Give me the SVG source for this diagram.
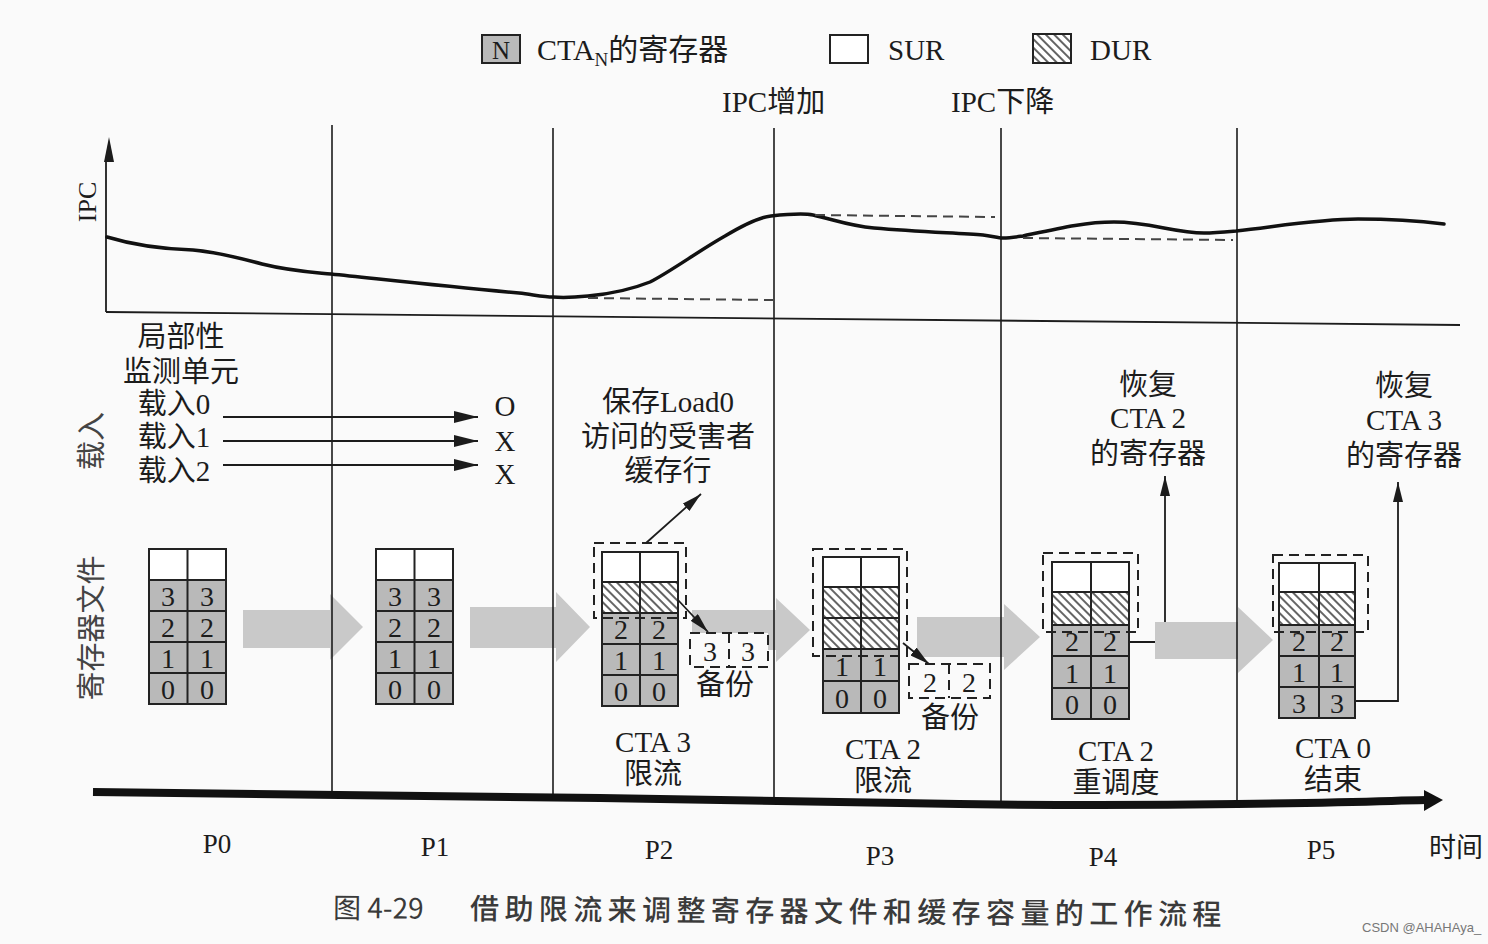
<svg xmlns="http://www.w3.org/2000/svg" width="1488" height="944" viewBox="0 0 1488 944">
<defs>
<style>
.t{font-family:"Liberation Serif","Noto Sans CJK SC",serif;fill:#1c1c1c;font-size:29px}
.m{text-anchor:middle}
.c{stroke:#222;stroke-width:2}
.w{fill:#fff}
.g{fill:#b9b9b9}
.h{fill:url(#hatch)}
.d{fill:none;stroke:#222;stroke-width:2;stroke-dasharray:10 6}
.ln{fill:none;stroke:#1c1c1c;stroke-width:1.8}
.ph{stroke:#1c1c1c;stroke-width:1.6}
.ga{fill:#c9c9c9}
.n{font-family:"Liberation Serif",serif;font-size:28px;fill:#1c1c1c;text-anchor:middle}
</style>
<pattern id="hatch" width="6" height="6" patternUnits="userSpaceOnUse" patternTransform="rotate(-45)">
<rect width="6" height="6" fill="#fff"/>
<line x1="1" y1="0" x2="1" y2="6" stroke="#222" stroke-width="1.4"/>
</pattern>
<marker id="arr" markerUnits="userSpaceOnUse" markerWidth="24" markerHeight="12" refX="24" refY="6" orient="auto">
<path d="M0,0 L24,6 L0,12 z" fill="#1c1c1c"/>
</marker>
<marker id="arrs" markerUnits="userSpaceOnUse" markerWidth="20" markerHeight="10" refX="20" refY="5" orient="auto">
<path d="M0,0 L20,5 L0,10 z" fill="#1c1c1c"/>
</marker>
</defs>
<rect width="1488" height="944" fill="#fafafa"/>

<g id="legend">
<rect x="482" y="35" width="38" height="28" class="c g"/>
<text x="501" y="59" class="n" style="font-size:25px">N</text>
<text x="537" y="60" class="t" style="font-size:30px">CTA<tspan font-size="19" dy="6">N</tspan><tspan dy="-6">的寄存器</tspan></text>
<rect x="830" y="35" width="38" height="28" class="c w"/>
<text x="888" y="60" class="t">SUR</text>
<rect x="1033" y="34" width="38" height="29" class="c h"/>
<text x="1090" y="60" class="t">DUR</text>
</g>

<g id="ipc-labels">
<text x="722" y="112" class="t">IPC增加</text>
<text x="951" y="112" class="t">IPC下降</text>
</g>

<g id="connectors-under">
<path d="M1129,642 H1165 V476" class="ln" marker-end="url(#arrs)"/>
<path d="M1355,701 H1398 V482" class="ln" marker-end="url(#arrs)"/>
</g>

<g id="flow-arrows">
<polygon class="ga" points="243,610 330,610 330,594 363,627 330,660 330,648 243,648"/>
<polygon class="ga" points="470,607 556,607 556,592 590,627 556,662 556,648 470,648"/>
<polygon class="ga" points="692,610 776,610 776,598 810,630 776,662 776,650 692,650"/>
<polygon class="ga" points="917,617 1004,617 1004,604 1040,637 1004,670 1004,657 917,657"/>
<polygon class="ga" points="1155,622 1238,622 1238,607 1273,640 1238,673 1238,659 1155,659"/>
</g>

<g id="phase-lines">
<line x1="332" y1="125" x2="332" y2="795" class="ph"/>
<line x1="553" y1="128" x2="553" y2="797" class="ph"/>
<line x1="774" y1="128" x2="774" y2="800" class="ph"/>
<line x1="1001" y1="128" x2="1001" y2="805" class="ph"/>
<line x1="1237" y1="128" x2="1237" y2="804" class="ph"/>
</g>

<g id="ipc-chart">
<line x1="106" y1="312" x2="106" y2="158" class="ln"/>
<polygon points="109,137 104,162 114,162" fill="#1c1c1c"/>
<line x1="106" y1="312" x2="1460" y2="325" class="ln"/>
<text transform="translate(96,202) rotate(-90)" class="t m" style="font-size:26px">IPC</text>
<path d="M107,237 C130,244 160,249 193,250 C215,252 240,258 262,264 C290,271 310,272 331,274 C380,279 440,286 519,293 C535,295 545,297 553,297 C565,298 578,297 588,296 C610,294 630,290 650,282 C670,272 700,250 725,236 C745,224 760,217 771,216 C790,214 803,213 813,215 C835,220 850,226 874,228 C920,232 960,233 983,235 C992,236 998,238 1003,238 C1010,238 1016,237 1023,236 C1060,228 1085,222 1114,222 C1150,222 1175,233 1204,233 C1215,233 1225,232 1236,231 C1280,226 1320,219 1358,219 C1390,219 1420,221 1444,224" fill="none" stroke="#111" stroke-width="3.5" stroke-linecap="round"/>
<line x1="588" y1="298" x2="773" y2="300" class="d" style="stroke:#444"/>
<line x1="815" y1="215" x2="995" y2="217" class="d" style="stroke:#444"/>
<line x1="1023" y1="238" x2="1233" y2="240" class="d" style="stroke:#444"/>
</g>

<g id="side-labels">
<text transform="translate(102,441) rotate(-90)" class="t m" style="fill:#444">载入</text>
<text transform="translate(102,628) rotate(-90)" class="t m" style="fill:#444">寄存器文件</text>
</g>

<g id="locality-unit">
<text x="181" y="347" class="t m">局部性</text>
<text x="181" y="382" class="t m">监测单元</text>
<text x="174" y="414" class="t m">载入0</text>
<text x="174" y="447" class="t m">载入1</text>
<text x="174" y="481" class="t m">载入2</text>
<line x1="223" y1="417" x2="478" y2="417" class="ln" marker-end="url(#arr)"/>
<line x1="223" y1="441" x2="478" y2="441" class="ln" marker-end="url(#arr)"/>
<line x1="223" y1="465" x2="478" y2="465" class="ln" marker-end="url(#arr)"/>
<text x="505" y="416" class="n" style="font-size:29px">O</text>
<text x="505" y="451" class="n" style="font-size:29px">X</text>
<text x="505" y="484" class="n" style="font-size:29px">X</text>
</g>

<g id="block-p0" transform="translate(149,549)">
<rect x="0" y="0" width="77" height="31" class="c w"/>
<rect x="0" y="31" width="77" height="31" class="c g"/>
<rect x="0" y="62" width="77" height="31" class="c g"/>
<rect x="0" y="93" width="77" height="31" class="c g"/>
<rect x="0" y="124" width="77" height="31" class="c g"/>
<line x1="38.5" y1="0" x2="38.5" y2="155" class="c"/>
<text x="19" y="57" class="n">3</text><text x="58" y="57" class="n">3</text>
<text x="19" y="88" class="n">2</text><text x="58" y="88" class="n">2</text>
<text x="19" y="119" class="n">1</text><text x="58" y="119" class="n">1</text>
<text x="19" y="150" class="n">0</text><text x="58" y="150" class="n">0</text>
</g>

<g id="block-p1" transform="translate(376,549)">
<rect x="0" y="0" width="77" height="31" class="c w"/>
<rect x="0" y="31" width="77" height="31" class="c g"/>
<rect x="0" y="62" width="77" height="31" class="c g"/>
<rect x="0" y="93" width="77" height="31" class="c g"/>
<rect x="0" y="124" width="77" height="31" class="c g"/>
<line x1="38.5" y1="0" x2="38.5" y2="155" class="c"/>
<text x="19" y="57" class="n">3</text><text x="58" y="57" class="n">3</text>
<text x="19" y="88" class="n">2</text><text x="58" y="88" class="n">2</text>
<text x="19" y="119" class="n">1</text><text x="58" y="119" class="n">1</text>
<text x="19" y="150" class="n">0</text><text x="58" y="150" class="n">0</text>
</g>

<g id="block-p2">
<g transform="translate(602,552)">
<rect x="0" y="0" width="76" height="30" class="c w"/>
<rect x="0" y="30" width="76" height="31" class="c h"/>
<rect x="0" y="61" width="76" height="31" class="c g"/>
<rect x="0" y="92" width="76" height="31" class="c g"/>
<rect x="0" y="123" width="76" height="31" class="c g"/>
<line x1="38" y1="0" x2="38" y2="154" class="c"/>
<text x="19" y="87" class="n">2</text><text x="57" y="87" class="n">2</text>
<text x="19" y="118" class="n">1</text><text x="57" y="118" class="n">1</text>
<text x="19" y="149" class="n">0</text><text x="57" y="149" class="n">0</text>
</g>
<rect x="594" y="543" width="92" height="75" class="d"/>
<line x1="646" y1="543" x2="701" y2="494" class="ln" marker-end="url(#arrs)"/>
<line x1="678" y1="600" x2="708" y2="632" class="ln" marker-end="url(#arrs)"/>
<rect x="690" y="633" width="78" height="34" class="d" style="fill:#fafafa"/>
<line x1="729" y1="633" x2="729" y2="667" class="d"/>
<text x="710" y="661" class="n">3</text><text x="748" y="661" class="n">3</text>
<text x="725" y="695" class="t m">备份</text>
<text x="653" y="752" class="t m">CTA 3</text>
<text x="653" y="784" class="t m">限流</text>
<text x="668" y="412" class="t m">保存Load0</text>
<text x="668" y="447" class="t m">访问的受害者</text>
<text x="668" y="481" class="t m">缓存行</text>
</g>

<g id="block-p3">
<g transform="translate(823,557)">
<rect x="0" y="0" width="76" height="30" class="c w"/>
<rect x="0" y="30" width="76" height="31" class="c h"/>
<rect x="0" y="61" width="76" height="31" class="c h"/>
<rect x="0" y="92" width="76" height="32" class="c g"/>
<rect x="0" y="124" width="76" height="32" class="c g"/>
<line x1="38" y1="0" x2="38" y2="156" class="c"/>
<text x="19" y="119" class="n">1</text><text x="57" y="119" class="n">1</text>
<text x="19" y="151" class="n">0</text><text x="57" y="151" class="n">0</text>
</g>
<rect x="813" y="549" width="94" height="107" class="d"/>
<line x1="903" y1="643" x2="929" y2="664" class="ln" marker-end="url(#arrs)"/>
<rect x="909" y="664" width="81" height="34" class="d" style="fill:#fafafa"/>
<line x1="949" y1="664" x2="949" y2="698" class="d"/>
<text x="930" y="692" class="n">2</text><text x="969" y="692" class="n">2</text>
<text x="950" y="728" class="t m">备份</text>
<text x="883" y="759" class="t m">CTA 2</text>
<text x="883" y="791" class="t m">限流</text>
</g>

<g id="block-p4">
<g transform="translate(1052,562)">
<rect x="0" y="0" width="77" height="30" class="c w"/>
<rect x="0" y="30" width="77" height="33" class="c h"/>
<rect x="0" y="63" width="77" height="31" class="c g"/>
<rect x="0" y="94" width="77" height="32" class="c g"/>
<rect x="0" y="126" width="77" height="31" class="c g"/>
<line x1="39" y1="0" x2="39" y2="157" class="c"/>
<text x="20" y="89" class="n">2</text><text x="58" y="89" class="n">2</text>
<text x="20" y="121" class="n">1</text><text x="58" y="121" class="n">1</text>
<text x="20" y="152" class="n">0</text><text x="58" y="152" class="n">0</text>
</g>
<rect x="1043" y="553" width="95" height="79" class="d"/>
<text x="1148" y="395" class="t m">恢复</text>
<text x="1148" y="428" class="t m">CTA 2</text>
<text x="1148" y="464" class="t m">的寄存器</text>
<text x="1116" y="761" class="t m">CTA 2</text>
<text x="1116" y="793" class="t m">重调度</text>
</g>

<g id="block-p5">
<g transform="translate(1279,563)">
<rect x="0" y="0" width="76" height="29" class="c w"/>
<rect x="0" y="29" width="76" height="33" class="c h"/>
<rect x="0" y="62" width="76" height="31" class="c g"/>
<rect x="0" y="93" width="76" height="31" class="c g"/>
<rect x="0" y="124" width="76" height="31" class="c g"/>
<line x1="40" y1="0" x2="40" y2="155" class="c"/>
<text x="20" y="88" class="n">2</text><text x="58" y="88" class="n">2</text>
<text x="20" y="119" class="n">1</text><text x="58" y="119" class="n">1</text>
<text x="20" y="150" class="n">3</text><text x="58" y="150" class="n">3</text>
</g>
<rect x="1273" y="555" width="95" height="77" class="d"/>
<text x="1404" y="396" class="t m">恢复</text>
<text x="1404" y="430" class="t m">CTA 3</text>
<text x="1404" y="466" class="t m">的寄存器</text>
<text x="1333" y="758" class="t m">CTA 0</text>
<text x="1333" y="790" class="t m">结束</text>
</g>

<g id="timeline">
<path d="M93,792 C300,795 500,796 600,798 S800,801 900,803 S1100,806 1237,804 S1380,801 1426,800" fill="none" stroke="#111" stroke-width="8"/>
<polygon points="1424,790 1443,800 1424,811" fill="#111"/>
<text x="217" y="853" class="t m" style="font-size:27px">P0</text>
<text x="435" y="856" class="t m" style="font-size:27px">P1</text>
<text x="659" y="859" class="t m" style="font-size:27px">P2</text>
<text x="880" y="865" class="t m" style="font-size:27px">P3</text>
<text x="1103" y="866" class="t m" style="font-size:27px">P4</text>
<text x="1321" y="859" class="t m" style="font-size:27px">P5</text>
<text x="1456" y="857" class="t m" style="font-size:27px">时间</text>
</g>

<g id="caption" transform="rotate(0.45,333,918)">
<text x="333" y="918" style="font-family:'Noto Sans CJK SC',sans-serif;font-size:28px;fill:#3a3a3a">图 4-29</text>
<text x="470" y="918" style="font-family:'Noto Sans CJK SC',sans-serif;font-size:29px;fill:#3a3a3a;letter-spacing:5.4px;font-weight:500">借助限流来调整寄存器文件和缓存容量的工作流程</text>
</g>
<text x="1362" y="932" style="font-family:'Liberation Sans',sans-serif;font-size:13px;fill:#777">CSDN @AHAHAya_</text>
</svg>
